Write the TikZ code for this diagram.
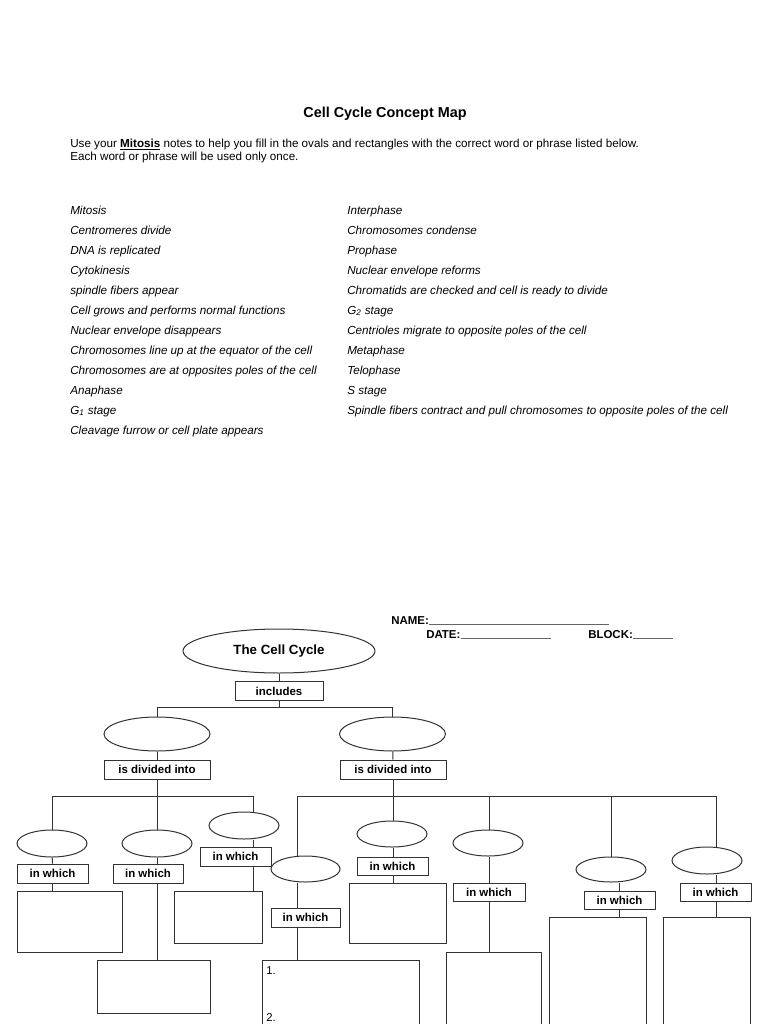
\documentclass[tikz,border=0pt]{standalone}
\usepackage{fontspec}
\setmainfont{Liberation Sans}
\usetikzlibrary{shapes.geometric}
% one reference pixel
\newcommand\pxu{0.75pt}
\tikzset{
	link/.style={draw=black!80, line width=0.75pt},
	oval/.style={draw=black!80, line width=0.75pt, ellipse, inner sep=0pt,
		minimum width=70*\pxu, minimum height=27*\pxu},
	linkbox/.style={draw=black!80, line width=0.75pt, rectangle, inner sep=0pt,
		minimum width=71*\pxu, minimum height=19*\pxu,
		font=\fontsize{8.6}{10}\selectfont\bfseries},
	blank/.style={draw=black!80, line width=0.75pt, rectangle, inner sep=0pt},
	wordlist/.style={anchor=base west, inner sep=0pt, font=\fontsize{8.75}{10}\selectfont\itshape},
}
\begin{document}
\begin{tikzpicture}[x=\pxu, y=-\pxu]
	\useasboundingbox (0, 0) rectangle (768, 1024);
	% heading
	\node[font=\fontsize{10.8}{13}\selectfont\bfseries] (title) at (385, 114) {Cell Cycle Concept Map};
	\node[anchor=base west, inner sep=0pt, font=\fontsize{8.75}{11}\selectfont] (intro1) at (70, 147)
		{Use your \textbf{\underline{Mitosis}} notes to help you fill in the ovals and rectangles with the correct word or phrase listed below.};
	\node[anchor=base west, inner sep=0pt, font=\fontsize{8.75}{11}\selectfont] (intro2) at (70, 160.5)
		{Each word or phrase will be used only once.};
	% word list, left column
	\foreach \txt [count=\i] in {Mitosis, Centromeres divide, DNA is replicated, Cytokinesis,
		spindle fibers appear, Cell grows and performs normal functions,
		Nuclear envelope disappears, Chromosomes line up at the equator of the cell,
		Chromosomes are at opposites poles of the cell, Anaphase,
		G\textsubscript{1} stage, Cleavage furrow or cell plate appears}{
		\node[wordlist] (left\i) at (70, 194 + 20 * \i) {\txt};
	}
	% word list, right column
	\foreach \txt [count=\i] in {Interphase, Chromosomes condense, Prophase,
		Nuclear envelope reforms, Chromatids are checked and cell is ready to divide,
		G\textsubscript{2} stage, Centrioles migrate to opposite poles of the cell,
		Metaphase, Telophase, S stage,
		Spindle fibers contract and pull chromosomes to opposite poles of the cell}{
		\node[wordlist] (right\i) at (347, 194 + 20 * \i) {\txt};
	}
	% name fields
	\node[anchor=west, inner sep=0pt, font=\fontsize{8.6}{10}\selectfont\bfseries] (name) at (391, 621) {NAME:};
	\node[anchor=west, inner sep=0pt, font=\fontsize{8.6}{10}\selectfont\bfseries] (date) at (426, 635) {DATE:};
	\node[anchor=west, inner sep=0pt, font=\fontsize{8.6}{10}\selectfont\bfseries] (block) at (588, 635) {BLOCK:};
	\draw[black!60, line width=0.5pt] (name.south east) ++(0, -1) -- ++(180, 0);
	\draw[black!60, line width=0.5pt] (date.south east) ++(0, -1) -- ++(90, 0);
	\draw[black!60, line width=0.5pt] (block.south east) ++(0, -1) -- ++(40, 0);
	% top of the map
	\node[oval, minimum width=192*\pxu, minimum height=44*\pxu, font=\fontsize{10}{12}\selectfont\bfseries]
		(cycle) at (279, 651) {The Cell Cycle};
	\node[linkbox, minimum width=88*\pxu] (incl) at (279, 691) {includes};
	\node[oval, minimum width=106*\pxu, minimum height=34*\pxu] (ph1) at (157, 734) {};
	\node[oval, minimum width=106*\pxu, minimum height=34*\pxu] (ph2) at (392.5, 734) {};
	\node[linkbox, minimum width=106*\pxu] (div1) at (157, 769.5) {is divided into};
	\node[linkbox, minimum width=106*\pxu] (div2) at (393, 769.5) {is divided into};
	\coordinate (j0) at (279, 707.5);
	\draw[link] (cycle) -- (incl);
	\draw[link] (incl) -- (j0);
	\draw[link] (ph1.north) |- (j0) -| (ph2.north);
	\draw[link] (ph1) -- (div1);
	\draw[link] (ph2) -- (div2);
	% left branch
	\node[oval] (a1) at (52, 843.5) {};
	\node[oval] (a2) at (157, 843.5) {};
	\node[oval] (a3) at (244, 825.5) {};
	\node[linkbox] (w1) at (52.5, 873.5) {in which};
	\node[linkbox, minimum width=70*\pxu] (w2) at (148, 873.5) {in which};
	\node[linkbox] (w3) at (235.5, 856.5) {in which};
	\node[blank, minimum width=105*\pxu, minimum height=61*\pxu] (r1) at (69.5, 921.5) {};
	\node[blank, minimum width=113*\pxu, minimum height=53*\pxu] (r2) at (153.5, 986.5) {};
	\node[blank, minimum width=88*\pxu, minimum height=52*\pxu] (r3) at (218, 917) {};
	\coordinate (jl3) at (253, 796);
	\draw[link] (a1.north) |- (jl3) -- (jl3 |- a3.north);
	\draw[link] (div1) -- (a2);
	\draw[link] (a1) -- (w1);
	\draw[link] (w1.south) -- (w1.south |- r1.north);
	\draw[link] (a2.south) -- (a2.south |- w2.north);
	\draw[link] (a2.south |- w2.south) -- (a2.south |- r2.north);
	\draw[link] (jl3 |- a3.south) -- (jl3 |- w3.north);
	\draw[link] (jl3 |- w3.south) -- (jl3 |- r3.north);
	% right branch
	\node[oval, minimum width=69*\pxu, minimum height=26*\pxu] (b1) at (305.5, 869) {};
	\node[oval, minimum height=26*\pxu] (b2) at (392, 834) {};
	\node[oval, minimum height=26*\pxu] (b3) at (488, 843) {};
	\node[oval, minimum height=25*\pxu] (b4) at (611, 869.5) {};
	\node[oval] (b5) at (707, 860.5) {};
	\node[linkbox, minimum width=69*\pxu] (w4) at (305.5, 917.5) {in which};
	\node[linkbox, minimum height=18*\pxu] (w5) at (392.5, 866) {in which};
	\node[linkbox, minimum width=72*\pxu, minimum height=18*\pxu] (w6) at (489, 892) {in which};
	\node[linkbox, minimum height=18*\pxu] (w7) at (619.5, 900) {in which};
	\node[linkbox, minimum height=18*\pxu] (w8) at (715.5, 892) {in which};
	\node[blank, minimum width=157*\pxu, minimum height=80*\pxu] (r4) at (340.5, 1000) {};
	\node[blank, minimum width=97*\pxu, minimum height=60*\pxu] (r5) at (397.5, 913) {};
	\node[blank, minimum width=95*\pxu, minimum height=88*\pxu] (r6) at (493.5, 996) {};
	\node[blank, minimum width=97*\pxu, minimum height=117*\pxu] (r7) at (597.5, 975.5) {};
	\node[blank, minimum width=87*\pxu, minimum height=117*\pxu] (r8) at (706.5, 975.5) {};
	\node[anchor=base west, inner sep=0pt, font=\fontsize{8.5}{10}\selectfont] (n1) at (266, 974) {1.};
	\node[anchor=base west, inner sep=0pt, font=\fontsize{8.5}{10}\selectfont] (n2) at (266, 1021) {2.};
	\coordinate (jr1) at (297, 796);
	\coordinate (jr4) at (611, 796);
	\coordinate (jr5) at (716, 796);
	\coordinate (k4) at (619, 0);
	\draw[link] (jr1) -- (jr5);
	\draw[link] (div2.south) -- (div2.south |- b2.north);
	% stems below the bar
	\draw[link] (jr1) -- (jr1 |- b1.north);
	\draw[link] (jr1 |- b1.south) -- (jr1 |- w4.north);
	\draw[link] (jr1 |- w4.south) -- (jr1 |- r4.north);
	\draw[link] (div2.south |- b2.south) -- (div2.south |- w5.north);
	\draw[link] (div2.south |- w5.south) -- (div2.south |- r5.north);
	\draw[link] (b3.north -| w6) -- (w6.north |- jr1);
	\draw[link] (b3.south -| w6) -- (w6.north);
	\draw[link] (w6.south) -- (w6.south |- r6.north);
	\draw[link] (jr4) -- (jr4 |- b4.north);
	\draw[link] (k4 |- b4.south) -- (k4 |- w7.north);
	\draw[link] (k4 |- w7.south) -- (k4 |- r7.north);
	\draw[link] (jr5) -- (jr5 |- b5.north);
	\draw[link] (jr5 |- b5.south) -- (jr5 |- w8.north);
	\draw[link] (jr5 |- w8.south) -- (jr5 |- r8.north);
\end{tikzpicture}
\end{document}
